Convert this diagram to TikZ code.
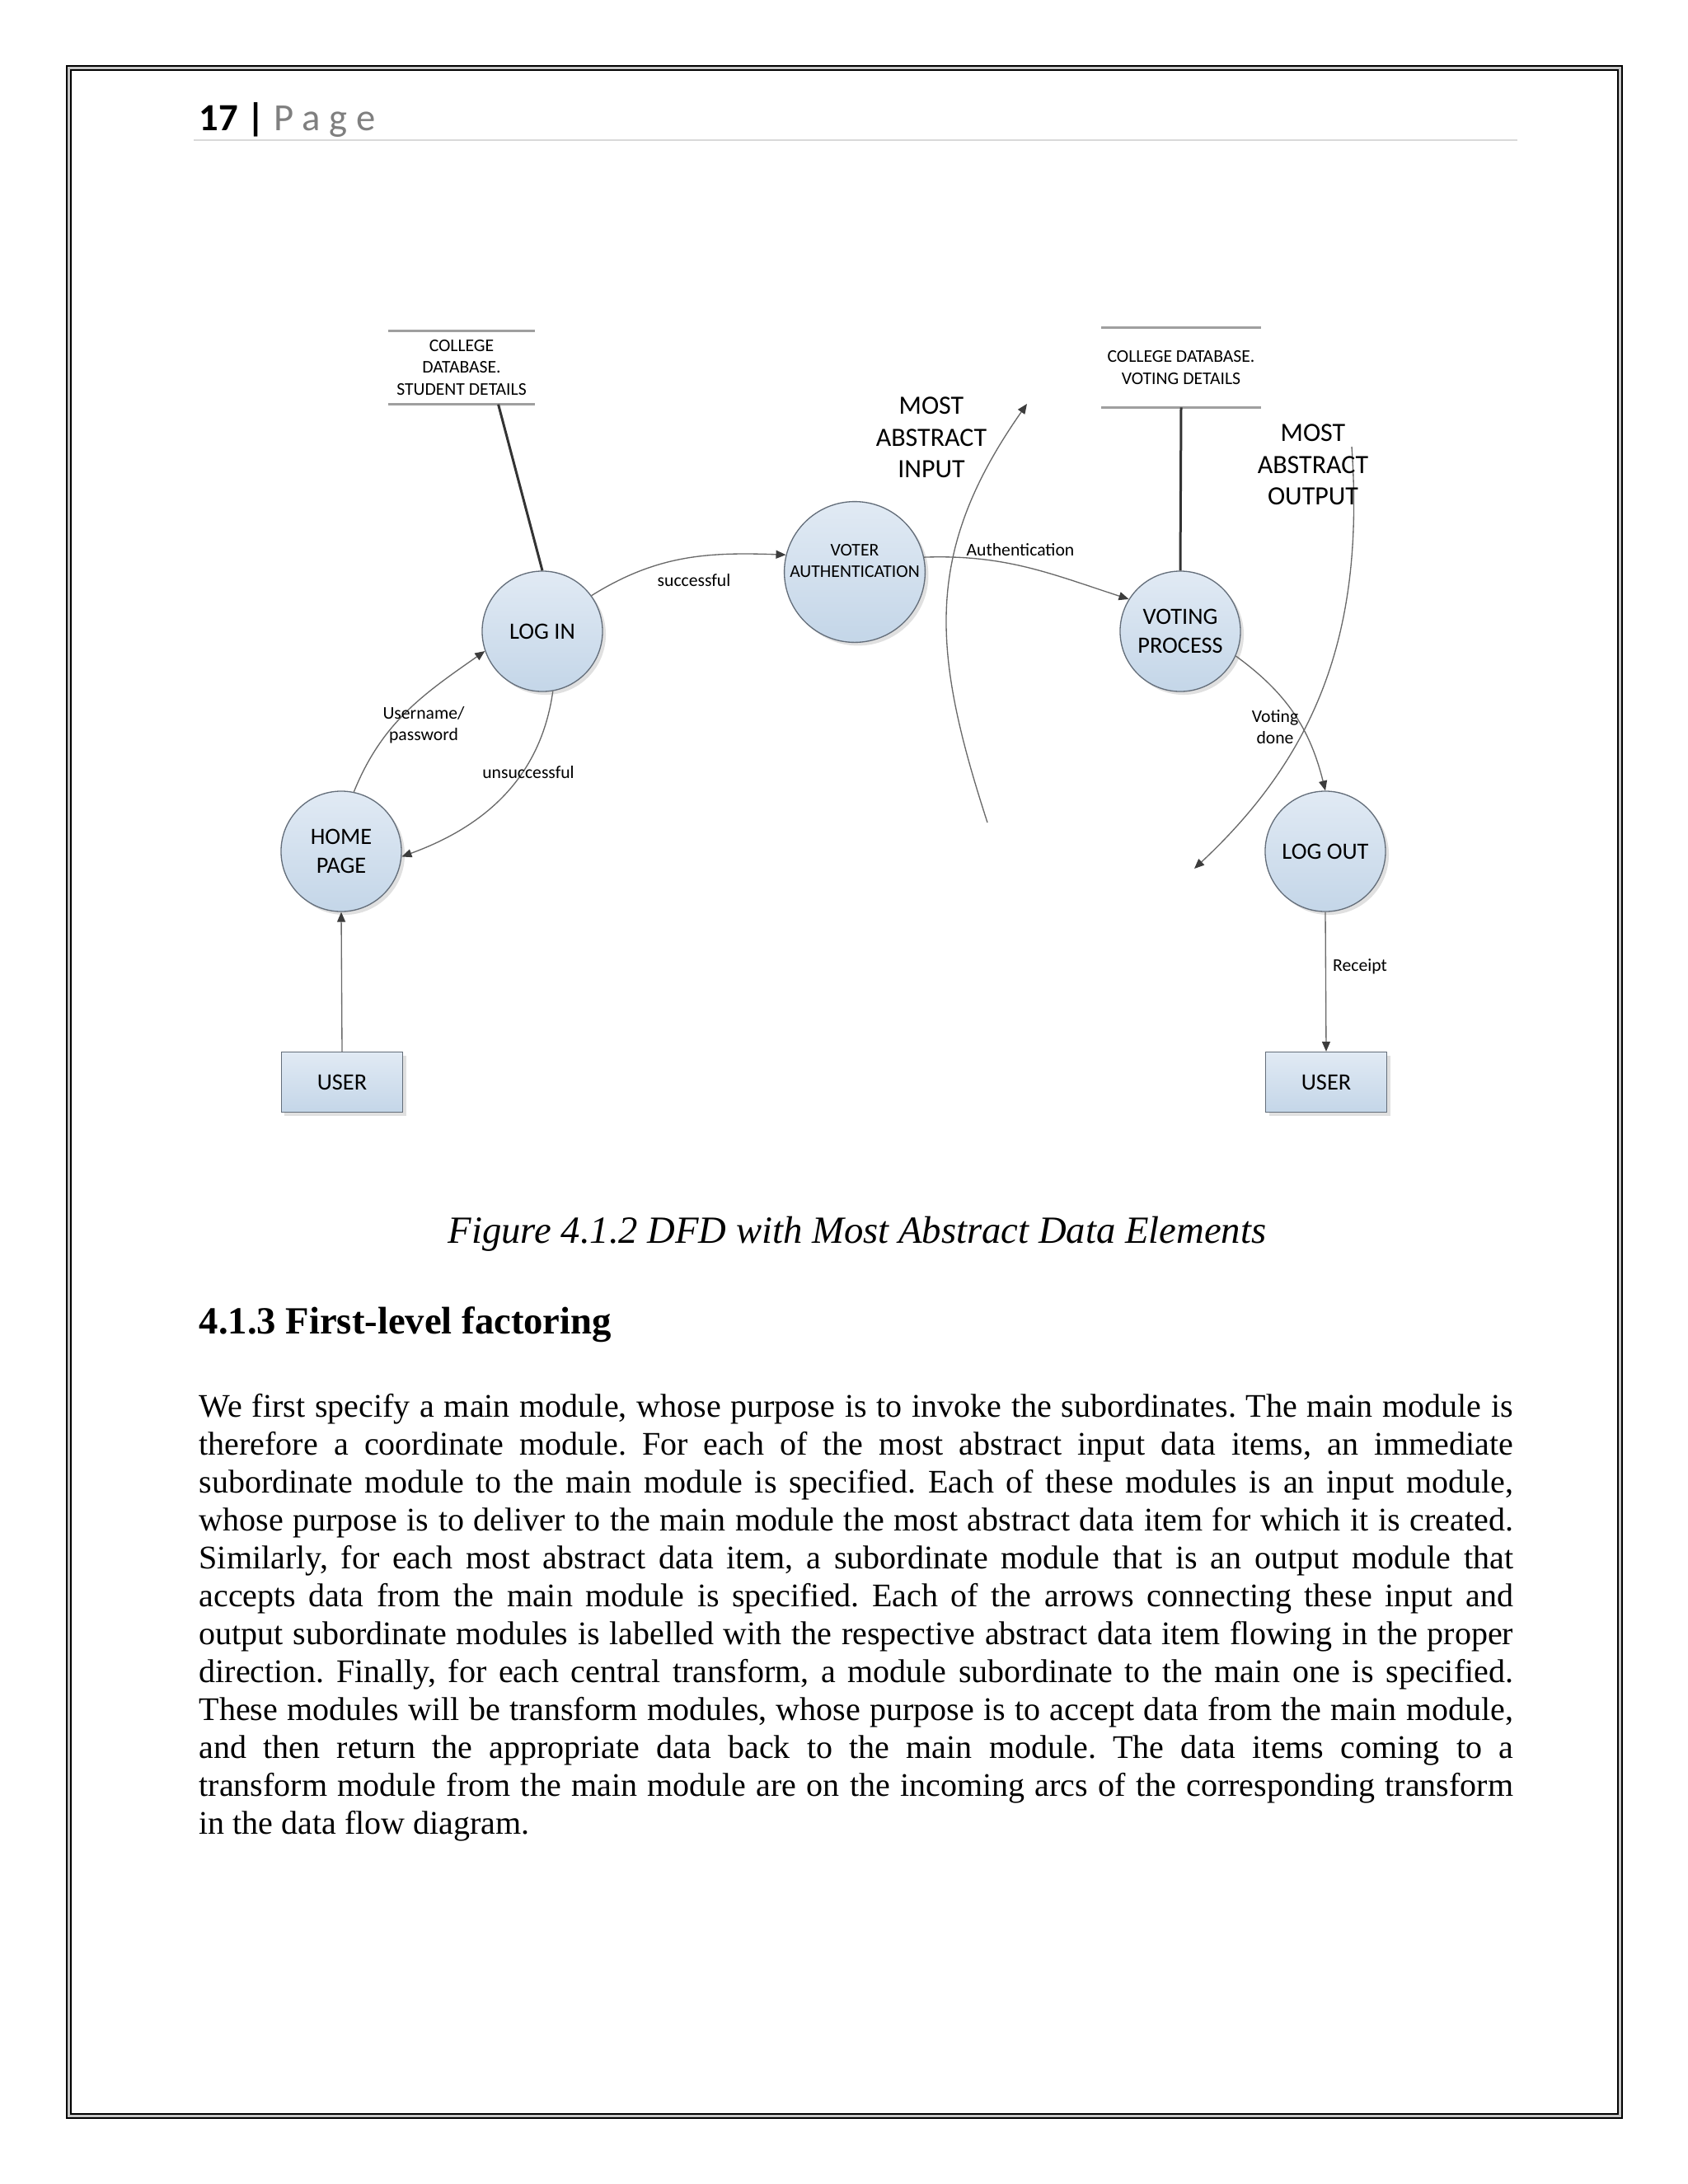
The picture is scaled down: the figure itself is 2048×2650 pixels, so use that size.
\documentclass[tikz,border=0pt]{standalone}
\usepackage{fontspec}
\setmainfont{Liberation Serif}
\newfontfamily\calibfont{Carlito}
\usetikzlibrary{arrows.meta, positioning, calc, shadows}

\definecolor{proctop}{RGB}{225,234,244}
\definecolor{procbot}{RGB}{196,214,232}
\definecolor{procedge}{RGB}{100,110,122}
\definecolor{flowgray}{RGB}{105,105,105}
\definecolor{tipgray}{RGB}{60,60,60}
\definecolor{rulegray}{RGB}{217,217,217}
\definecolor{pagegray}{RGB}{127,127,127}

\newcommand{\dfdtext}{\calibfont\fontsize{8.5}{10.6}\selectfont}
\newcommand{\dfdsmall}{\calibfont\fontsize{6.5}{7.9}\selectfont}
\newcommand{\dfdlarge}{\calibfont\fontsize{9.6}{11.6}\selectfont}

\frenchspacing

\begin{document}
\begin{tikzpicture}[
        x=0.010542cm, y=0.010542cm,
        proc/.style={circle, draw=procedge, line width=0.4pt, top color=proctop, bottom color=procbot, minimum size=1.54cm, inner sep=0pt, align=center, font=\dfdtext, drop shadow={shadow xshift=1.2pt, shadow yshift=-1.2pt, fill=black, opacity=0.12}},
        entity/.style={rectangle, draw=procedge, line width=0.4pt, top color=proctop, bottom color=procbot, minimum width=1.55cm, minimum height=0.77cm, inner sep=0pt, font=\dfdtext, drop shadow={shadow xshift=1.2pt, shadow yshift=-1.2pt, fill=black, opacity=0.12}},
        store/.style={inner sep=0pt, align=center, font=\dfdsmall},
        storeline/.style={draw=gray!75, line width=0.8pt},
        link/.style={draw=black!80, line width=0.9pt},
        flow/.style={draw=flowgray, line width=0.4pt, -{Triangle[length=3.6pt, width=3pt, color=tipgray]}},
        flowlabel/.style={font=\dfdsmall, align=center, inner sep=0pt},
        abstract/.style={font=\dfdlarge, align=center, inner sep=0pt}
    ]
        \useasboundingbox (0,0) rectangle (2048,-2650);
        \fill[white] (0,0) rectangle (2048,-2650);

        % page frame and header
        \draw[gray!45, line width=1.3pt] (83.5,-82.5) rectangle (1965.5,-2567.5);
        \draw[line width=0.7pt] (81,-80) rectangle (1968,-2570);
        \draw[line width=0.7pt] (86,-85) rectangle (1963,-2565);
        \node[anchor=base west, inner sep=0pt, font=\calibfont\fontsize{14}{17}\selectfont] (pagehead) at (241,-158) {\textbf{17 |} \textcolor{pagegray}{P a g e}};
        \draw[rulegray, line width=0.7pt] (235,-170) -- (1841,-170);

        % data stores
        \node[store, minimum width=1.866cm, minimum height=0.928cm] (studdb) at (560,-446) {COLLEGE\\DATABASE.\\STUDENT DETAILS};
        \node[store, minimum width=2.024cm, minimum height=1.006cm] (votedb) at (1433,-446) {COLLEGE DATABASE.\\VOTING DETAILS};
        \foreach \db in {studdb, votedb} {
            \draw[storeline] (\db.north west) -- (\db.north east);
            \draw[storeline] (\db.south west) -- (\db.south east);
        }

        % processes and entities
        \node[proc] (login) at (658,-766) {LOG IN};
        \node[proc, minimum size=1.79cm, font=\dfdsmall, text depth=0.28cm] (auth) at (1037,-694) {VOTER\\AUTHENTICATION};
        \node[proc] (voting) at (1432,-766) {VOTING\\PROCESS};
        \node[proc] (home) at (414,-1033) {HOME\\PAGE};
        \node[proc] (logout) at (1608,-1033) {LOG OUT};
        \node[entity] (user) at (415,-1313) {USER};
        \node[entity] (userout) at (1609,-1313) {USER};

        \draw[link] ($(studdb.south west)!0.75!(studdb.south east)$) -- (login.north);
        \draw[link] (votedb.south) -- (voting.north);

        % flows
        \draw[flow] (user.north) -- (home.south);
        \draw[flow] (home.78) to[out=68, in=215] (login.199);
        \draw[flow] (login.280) to[out=262, in=20] (home.355);
        \draw[flow] (login.36) to[out=32, in=178] (auth.166);
        \draw[flow] (auth.12) to[out=2, in=162] (voting.148);
        \draw[flow] (voting.336) to[out=324, in=104] (logout.north);
        \draw[flow] (logout.south) -- (userout.north);

        \node[flowlabel] (lbluser) at (514,-880) {Username/\\password};
        \node[flowlabel] (lblfail) at (641,-937) {unsuccessful};
        \node[flowlabel] (lblok) at (842,-704) {successful};
        \node[flowlabel] (lblauth) at (1238,-667) {Authentication};
        \node[flowlabel] (lbldone) at (1547,-882) {Voting\\done};
        \node[flowlabel] (lblreceipt) at (1650,-1173) {Receipt};

        % most abstract input / output
        \coordinate (inbot) at (1198,-998);
        \coordinate (intop) at (1246,-490);
        \draw[flow] (inbot) to[out=108, in=235, looseness=1.1] (intop);
        \coordinate (outtop) at (1640,-542);
        \coordinate (outbot) at (1449,-1054);
        \draw[flow] (outtop) to[out=274, in=43] (outbot);
        \node[abstract] (absin) at (1130,-531) {MOST\\ABSTRACT\\INPUT};
        \node[abstract] (absout) at (1593,-564) {MOST\\ABSTRACT\\OUTPUT};

        % caption and text
        \node[anchor=base, inner sep=0pt, font=\itshape\fontsize{14}{16}\selectfont] (caption) at (1040,-1508) {Figure 4.1.2 DFD with Most Abstract Data Elements};
        \node[anchor=base west, inner sep=0pt, font=\bfseries\fontsize{14}{16}\selectfont] (heading) at (241,-1618) {4.1.3 First-level factoring};
        \node[anchor=north west, inner sep=0pt, text width=16.81cm, align=justify, font=\fontsize{12}{13.8}\selectfont] (body) at (241,-1691) {We first specify a main module, whose purpose is to invoke the subordinates. The main module is\linebreak
therefore a coordinate module. For each of the most abstract input data items, an immediate\linebreak
subordinate module to the main module is specified. Each of these modules is an input module,\linebreak
whose purpose is to deliver to the main module the most abstract data item for which it is created.\linebreak
Similarly, for each most abstract data item, a subordinate module that is an output module that\linebreak
accepts data from the main module is specified. Each of the arrows connecting these input and\linebreak
output subordinate modules is labelled with the respective abstract data item flowing in the proper\linebreak
direction. Finally, for each central transform, a module subordinate to the main one is specified.\linebreak
These modules will be transform modules, whose purpose is to accept data from the main module,\linebreak
and then return the appropriate data back to the main module. The data items coming to a\linebreak
transform module from the main module are on the incoming arcs of the corresponding transform\linebreak
in the data flow diagram.};
    \end{tikzpicture}
\end{document}
